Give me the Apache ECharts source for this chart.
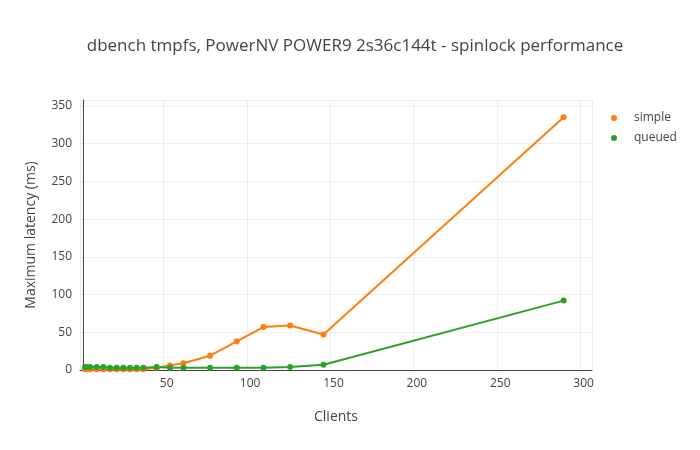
<!DOCTYPE html>
<html><head><meta charset="utf-8">
<script src="https://cdn.jsdelivr.net/npm/echarts@6/dist/echarts.min.js"></script>
<style>body{margin:0}#c{width:700px;height:450px}</style></head>
<body><div id="c"></div>
<script>
var clients = [1, 2, 4, 8, 12, 16, 20, 24, 28, 32, 36, 44, 52, 60, 76, 92, 108, 124, 144, 288];
var simple = [1, 1, 1, 1, 1, 1, 1, 1, 1, 1, 1, 3, 6, 9, 19, 38, 57, 59, 47, 335];
var queued = [4, 4, 4, 4, 4, 3, 3, 3, 3, 3, 3, 4, 3, 3, 3, 3, 3, 4, 7, 92];
var xTicks = [0, 50, 100, 150, 200, 250, 300];

function pairs(ys) {
    return clients.map(function (x, i) { return [x, ys[i]]; });
}

var chart = echarts.init(document.getElementById('c'));
var font = 'Open Sans, Liberation Sans, sans-serif';
chart.setOption({
    textStyle: { fontFamily: font },
    title: {
        text: 'dbench tmpfs, PowerNV POWER9 2s36c144t - spinlock performance',
        left: 350, top: 33, textAlign: 'center',
        textStyle: { fontSize: 17, fontWeight: 'normal', color: '#444', fontFamily: font }
    },
    legend: {
        orient: 'vertical', left: 606, top: 107, itemGap: 8,
        icon: 'circle', itemWidth: 30, itemHeight: 6,
        textStyle: { fontSize: 12, color: '#444' },
        data: ['simple', 'queued']
    },
    grid: { left: 80, right: 108, top: 100, bottom: 80 },
    xAxis: {
        type: 'value', min: -2, max: 305, interval: 50,
        name: 'Clients', nameLocation: 'middle', nameGap: 40,
        nameTextStyle: { fontSize: 14, color: '#444' },
        axisLine: { onZero: false, lineStyle: { color: '#444' } },
        axisTick: { show: false },
        axisLabel: { color: '#444', fontSize: 12, showMinLabel: false,
            customValues: xTicks },
        splitLine: { lineStyle: { color: '#eee' } }
    },
    yAxis: {
        type: 'value', min: 0, max: 358, interval: 50,
        name: 'Maximum latency (ms)', nameLocation: 'middle', nameGap: 42,
        nameTextStyle: { fontSize: 14, color: '#444' },
        axisLine: { show: true, lineStyle: { color: '#444' } },
        axisTick: { show: false },
        axisLabel: { color: '#444', fontSize: 12, showMaxLabel: false },
        splitLine: { lineStyle: { color: '#eee' } }
    },
    series: [
        { name: 'simple', type: 'line', data: pairs(simple), color: '#ff7f0e',
          symbol: 'circle', symbolSize: 6, lineStyle: { width: 2 } },
        { name: 'queued', type: 'line', data: pairs(queued), color: '#2ca02c',
          symbol: 'circle', symbolSize: 6, lineStyle: { width: 2 } }
    ]
});
</script></body></html>
